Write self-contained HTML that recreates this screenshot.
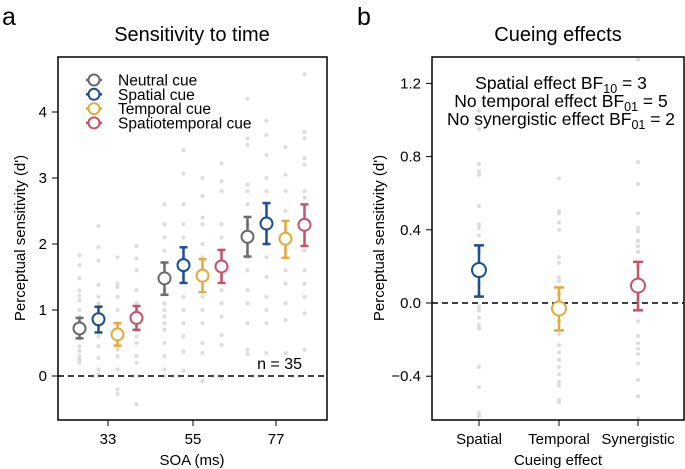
<!DOCTYPE html>
<html><head><meta charset="utf-8"><style>
body{margin:0;background:#fff;}
svg{display:block;font-family:"Liberation Sans",Arial,sans-serif;}
</style></head><body>
<svg id="fig" width="685" height="469" viewBox="0 0 685 469"></svg>
<script>
// Panel a data
const soaLabels = ["33","55","77"];
const cueNames = ["Neutral cue","Spatial cue","Temporal cue","Spatiotemporal cue"];
const cueColors = ["#6b6b6b","#1c4f8f","#e3aa3c","#c45369"];
const neutralMean = [0.72,1.48,2.11], neutralLo=[0.57,1.23,1.81], neutralHi=[0.88,1.72,2.41];
const spatialMean = [0.86,1.68,2.31], spatialLo=[0.66,1.41,2.00], spatialHi=[1.05,1.95,2.62];
const temporalMean = [0.63,1.52,2.08], temporalLo=[0.46,1.27,1.79], temporalHi=[0.80,1.77,2.35];
const spatioMean = [0.88,1.66,2.29], spatioLo=[0.70,1.41,1.97], spatioHi=[1.06,1.91,2.60];
const aYTicks = [0,1,2,3,4];
const aDots = [
 [[1.83,1.68,1.48,1.3,1.22,1.15,1.0,0.9,0.8,0.7,0.6,0.45,0.38,0.3,0.25,0.2],[2.6,2.3,2.1,1.9,1.7,1.5,1.3,1.1,1.0,0.9,0.8,0.7,0.5,0.3,0.1,0.0],[4.2,3.6,3.5,2.9,2.8,2.6,2.3,2.0,1.8,1.6,1.3,1.1,0.8,0.4,0.33]],
 [[2.27,1.95,1.75,1.38,1.2,1.1,0.95,0.8,0.6,0.45,0.27,0.1,0.02],[3.42,3.07,2.6,2.3,2.1,1.8,1.5,1.2,1.0,0.8,0.6,0.37,0.08],[3.87,3.65,3.35,3.0,2.8,2.6,2.0,1.8,1.5,1.2,1.0,0.8,0.35]],
 [[1.8,1.4,1.35,1.2,1.0,0.8,0.6,0.4,0.3,0.1,-0.2,-0.27],[3.0,2.73,2.4,2.3,2.0,1.8,1.5,1.2,1.0,0.8,0.5,0.35,-0.08],[3.47,3.05,2.8,2.5,2.2,1.9,1.6,1.4,1.1,0.85,0.35]],
 [[1.97,1.78,1.6,1.3,1.1,1.0,0.8,0.6,0.5,0.3,0.2,-0.43],[3.22,2.95,2.8,2.3,2.1,1.9,1.5,1.3,1.1,0.9,0.62,0.47,-0.03],[4.57,3.7,3.6,3.3,3.2,2.8,2.7,2.2,1.9,1.6,1.4,1.2,0.95,0.4]]
];
// Panel b data
const effectLabels = ["Spatial","Temporal","Synergistic"];
const effectColors = ["#1c4f8f","#e3aa3c","#c45369"];
const effectMean = [0.18,-0.03,0.095];
const effectLo = [0.035,-0.15,-0.04];
const effectHi = [0.315,0.085,0.225];
const bYTicks = [-0.4,0,0.4,0.8,1.2];
const bYTickLabels = ["\u22120.4","0.0","0.4","0.8","1.2"];
const bDots = [
 [1.05,0.95,0.76,0.72,0.7,0.53,0.43,0.41,0.37,0.3,0.28,0.2,0.1,0.05,-0.02,-0.04,-0.08,-0.12,-0.14,-0.35,-0.46,-0.6,-0.62],
 [0.68,0.5,0.49,0.44,0.4,0.25,0.22,0.14,0.12,0.05,-0.05,-0.1,-0.17,-0.23,-0.27,-0.31,-0.35,-0.39,-0.43,-0.45,-0.53,-0.54],
 [1.33,0.77,0.65,0.49,0.41,0.39,0.34,0.31,0.28,0.2,0.05,0.02,-0.1,-0.18,-0.22,-0.25,-0.28,-0.33,-0.42,-0.51,-0.63]
];

const NS="http://www.w3.org/2000/svg";
const svg=document.getElementById('fig');
function el(tag,attrs,parent,text){const e=document.createElementNS(NS,tag);for(const k in attrs)e.setAttribute(k,attrs[k]);if(text!==undefined)e.textContent=text;(parent||svg).appendChild(e);return e;}

// ---- panel a ----
const aY=v=>376-66*v;
const aX=(g,c)=>[108,193,276][g]+(c-1.5)*19;
const ga=el('g',{});


let t=el('text',{x:2,y:25,'font-size':25},ga,'a');

t=el('text',{x:192,y:41,'font-size':20,'text-anchor':'middle'},ga,'Sensitivity to time');

aDots.forEach((cue,c)=>cue.forEach((vals,g)=>vals.forEach(v=>{
 const d=el('circle',{cx:aX(g,c),cy:aY(v),r:2,fill:'#dcdcdc'},ga);
 
 
})));
el('line',{x1:58,x2:327,y1:aY(0),y2:aY(0),stroke:'#000','stroke-width':1.5,'stroke-dasharray':'6,4'},ga);
const aM=[neutralMean,spatialMean,temporalMean,spatioMean],aL=[neutralLo,spatialLo,temporalLo,spatioLo],aH=[neutralHi,spatialHi,temporalHi,spatioHi];
for(let c=0;c<4;c++)for(let g=0;g<3;g++){
 const x=aX(g,c),col=cueColors[c];
 const e=el('g',{stroke:col,'stroke-width':2.5,fill:'#fff'},ga);
 
 
 el('line',{x1:x,x2:x,y1:aY(aL[c][g]),y2:aY(aH[c][g])},e);
 el('line',{x1:x-4,x2:x+4,y1:aY(aL[c][g]),y2:aY(aL[c][g])},e);
 el('line',{x1:x-4,x2:x+4,y1:aY(aH[c][g]),y2:aY(aH[c][g])},e);
 el('circle',{cx:x,cy:aY(aM[c][g]),r:6,'stroke-width':2},e);
}
el('rect',{x:58,y:57,width:269,height:363,fill:'none',stroke:'#000','stroke-width':1.5},ga);
aYTicks.forEach(v=>{el('line',{x1:52,x2:58,y1:aY(v),y2:aY(v),stroke:'#000'},ga);
 const tt=el('text',{x:47,y:aY(v)+5,'font-size':15,'text-anchor':'end'},ga,String(v));
 });
soaLabels.forEach((s,g)=>{el('line',{x1:aX(g,1.5),x2:aX(g,1.5),y1:420,y2:426,stroke:'#000'},ga);
 const tt=el('text',{x:aX(g,1.5),y:444,'font-size':15,'text-anchor':'middle'},ga,s);
 });
t=el('text',{x:192,y:465,'font-size':15,'text-anchor':'middle'},ga,'SOA (ms)');

t=el('text',{x:25,y:238,'font-size':15,'text-anchor':'middle',transform:'rotate(-90 25 238)'},ga,"Perceptual sensitivity (d')");

t=el('text',{x:302,y:369,'font-size':16,'text-anchor':'end'},ga,'n = 35');

cueNames.forEach((n,c)=>{const y=80+c*14.3;
 const lg=el('g',{},ga);
 el('line',{x1:86,x2:102,y1:y,y2:y,stroke:cueColors[c],'stroke-width':2.5},lg);
 el('circle',{cx:94,cy:y,r:5.5,fill:'#fff',stroke:cueColors[c],'stroke-width':2},lg);
 el('text',{x:118,y:y+5.5,'font-size':15.5},lg,n);
});

// ---- panel b ----
const bY=v=>303-183*v;
const bX=i=>[479,559,638][i];
const gb=el('g',{});


t=el('text',{x:357,y:25,'font-size':25},gb,'b');

t=el('text',{x:558,y:41,'font-size':20,'text-anchor':'middle'},gb,'Cueing effects');

bDots.forEach((vals,i)=>vals.forEach(v=>{const y=bY(v);if(y<57||y>420)return;
 const d=el('circle',{cx:bX(i),cy:y,r:2,fill:'#dcdcdc'},gb);
 
 }));
el('line',{x1:432,x2:684,y1:bY(0),y2:bY(0),stroke:'#000','stroke-width':1.5,'stroke-dasharray':'6,4'},gb);
effectLabels.forEach((n,i)=>{const x=bX(i),col=effectColors[i];
 const e=el('g',{stroke:col,'stroke-width':2.5,fill:'#fff'},gb);
 
 
 el('line',{x1:x,x2:x,y1:bY(effectLo[i]),y2:bY(effectHi[i])},e);
 el('line',{x1:x-5,x2:x+5,y1:bY(effectLo[i]),y2:bY(effectLo[i])},e);
 el('line',{x1:x-5,x2:x+5,y1:bY(effectHi[i]),y2:bY(effectHi[i])},e);
 el('circle',{cx:x,cy:bY(effectMean[i]),r:7,'stroke-width':2},e);
 el('line',{x1:x,x2:x,y1:420,y2:426,stroke:'#000','stroke-width':1},gb);
 const tt=el('text',{x:x,y:444,'font-size':15,'text-anchor':'middle'},gb,n);
 
});
el('rect',{x:432,y:57,width:252,height:363,fill:'none',stroke:'#000','stroke-width':1.5},gb);
bYTicks.forEach((v,i)=>{el('line',{x1:426,x2:432,y1:bY(v),y2:bY(v),stroke:'#000'},gb);
 const tt=el('text',{x:421,y:bY(v)+5,'font-size':15,'text-anchor':'end'},gb,bYTickLabels[i]);
 });
t=el('text',{x:558,y:465,'font-size':15,'text-anchor':'middle'},gb,'Cueing effect');

t=el('text',{x:384,y:238,'font-size':15,'text-anchor':'middle',transform:'rotate(-90 384 238)'},gb,"Perceptual sensitivity (d')");

const ann=[["Spatial effect BF","10"," = 3"],["No temporal effect BF","01"," = 5"],["No synergistic effect BF","01"," = 2"]];
ann.forEach((a,i)=>{const tt=el('text',{x:561,y:89+i*18,'font-size':17.5,'text-anchor':'middle'},gb);
 
 el('tspan',{},tt,a[0]);el('tspan',{'font-size':12.5,dy:4},tt,a[1]);el('tspan',{dy:-4},tt,a[2]);});
</script>
</body></html>
